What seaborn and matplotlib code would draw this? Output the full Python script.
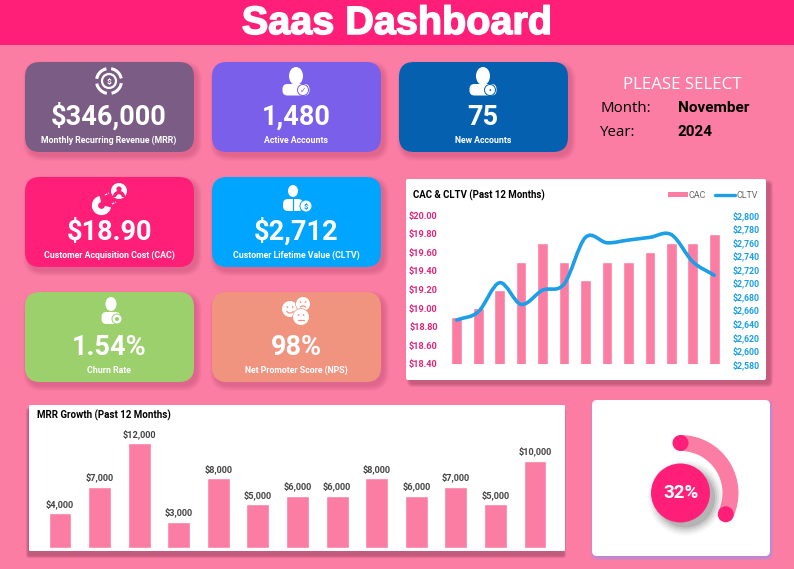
import numpy as np
import matplotlib
matplotlib.use("Agg")
import matplotlib.pyplot as plt
import pandas as pd
import seaborn as sns
import matplotlib.patheffects as pe
from matplotlib.patches import FancyBboxPatch, Circle, Ellipse, PathPatch, Rectangle
from matplotlib.path import Path
from matplotlib.lines import Line2D
from matplotlib.ticker import FuncFormatter, FixedLocator

# ---- data ----
months = ["Nov", "Dec", "Jan", "Feb", "Mar", "Apr", "May", "Jun", "Jul", "Aug", "Sep", "Oct", "Nov "]
cac_values = [18.90, 19.00, 19.20, 19.50, 19.70, 19.50, 19.30, 19.50, 19.50, 19.60, 19.70, 19.70, 19.80]
cltv_values = [2645, 2657, 2700, 2668, 2689, 2698, 2767, 2759, 2763, 2767, 2771, 2731, 2711]
mrr_growth = [4000, 7000, 12000, 3000, 8000, 5000, 6000, 6000, 8000, 6000, 7000, 5000, 10000]
retention_share = 0.32

kpi_values = ["$346,000", "1,480", "75", "$18.90", "$2,712", "1.54%", "98%"]
kpi_labels = ["Monthly Recurring Revenue (MRR)", "Active Accounts", "New Accounts",
              "Customer Acquisition Cost (CAC)", "Customer Lifetime Value (CLTV)",
              "Churn Rate", "Net Promoter Score (NPS)"]
kpi_colors = ["#7B5C85", "#7A5FEA", "#0561B0", "#FF1F78", "#00A5FF", "#9BD06D", "#F09480"]
kpi_boxes = [(25, 62), (212, 62), (399, 62), (25, 177), (212, 177), (25, 292), (212, 292)]

PINK = "#FB7DA3"
HOT = "#FF1F78"
BLUE = "#1B9FE6"
W, H = 794, 569

sns.set_theme(style="white")
plt.rcParams["font.family"] = ["Roboto", "DejaVu Sans"]

fig = plt.figure(figsize=(W / 100, H / 100), dpi=100, facecolor=PINK)

# Full-figure canvas measured in pixels, y pointing down
bg = fig.add_axes([0, 0, 1, 1], zorder=0)
bg.set_xlim(0, W)
bg.set_ylim(H, 0)
bg.axis("off")


def panel_axes(x0, y0, x1, y1, **kw):
    ax = fig.add_axes([x0 / W, 1 - y1 / H, (x1 - x0) / W, (y1 - y0) / H], zorder=2, **kw)
    ax.patch.set_alpha(0)
    return ax


def rbox(x, y, w, h, r, color, alpha=1.0, z=2):
    bg.add_patch(FancyBboxPatch((x + r, y + r), w - 2 * r, h - 2 * r,
                                boxstyle=f"round,pad={r},rounding_size={r}",
                                fc=color, ec="none", alpha=alpha, zorder=z))


def soft_shadow(x, y, w, h, r, color, dx=3, dy=4, spread=5, alpha=0.05):
    for s in range(spread, -1, -1):
        rbox(x + dx - s, y + dy - s, w + 2 * s, h + 2 * s, r + s, color, alpha, z=1)


def arc(cx, cy, r, a0, a1, lw, color="white", z=4, cap="butt"):
    t = np.radians(np.linspace(a0, a1, 40))
    bg.plot(cx + r * np.cos(t), cy + r * np.sin(t), color=color, lw=lw, zorder=z,
            solid_capstyle=cap)


def person(cx, head_y, rx, ry, body_w, body_top, body_bot):
    bg.add_patch(Ellipse((cx, head_y), 2 * rx, 2 * ry, fc="white", ec="none", zorder=4))
    rbox(cx - body_w / 2, body_top, body_w, body_bot - body_top, 5, "white", z=4)


def badge(cx, cy, r, color, mark=None):
    bg.add_patch(Circle((cx, cy), r + 1, fc=color, ec="none", zorder=5))
    bg.add_patch(Circle((cx, cy), r, fc="white", ec="none", zorder=5))
    if mark:
        bg.text(cx, cy, mark, color=color, fontsize=5.5, fontweight="bold",
                family=["Roboto", "DejaVu Sans"], ha="center", va="center", zorder=6)


# ---- header ----
bg.add_patch(Rectangle((0, 0), W, 45, fc=HOT, ec="none", zorder=1))
bg.text(397, 23, "Saas Dashboard", color="white", fontsize=28.5, fontweight="bold",
        family="Liberation Sans", ha="center", va="center", zorder=3,
        path_effects=[pe.withStroke(linewidth=1.1, foreground="white")])

# ---- KPI cards ----
for (x, y), col, val, lab in zip(kpi_boxes, kpi_colors, kpi_values, kpi_labels):
    soft_shadow(x, y, 169, 90, 15, "#A0305F")
    rbox(x, y, 169, 90, 15, col)
    bg.text(x + 84, y + 55, val, color="white", fontsize=19.5, fontweight="bold",
            ha="center", va="center", zorder=4)
    bg.text(x + 84, y + 78, lab, color="white", fontsize=6.3, fontweight="bold",
            ha="center", va="center", zorder=4)

# revenue cycle icon
for a in (10, 100, 190, 280):
    arc(109, 81, 12.5, a, a + 68, 2.2)
bg.add_patch(Circle((109, 81), 7, fc="none", ec="white", lw=1.6, zorder=4))
bg.text(109, 81, "$", color="white", fontsize=6, fontweight="bold", ha="center", va="center", zorder=4)

# account icons
for cx, col in ((296, kpi_colors[1]), (483, kpi_colors[2])):
    person(cx, 76, 7, 9, 27, 84, 95.5)
    badge(cx + 7, 90, 5, col, "✓" if cx == 296 else "•")

# acquisition magnet icon
arc(101.5, 205.5, 6.5, 10, 260, 4.5)
bg.add_patch(Circle((119, 191), 8, fc="white", ec="none", zorder=4))
bg.add_patch(Circle((119, 189), 2.6, fc=kpi_colors[3], ec="none", zorder=5))
arc(119, 197, 4.5, 180, 360, 2.5, kpi_colors[3], z=5)
bg.plot([105, 109], [195, 193], color="white", lw=0.9, ls=(0, (2, 1)), zorder=4)
bg.plot([112, 116], [204, 202], color="white", lw=0.9, ls=(0, (2, 1)), zorder=4)

# lifetime value icon
person(293, 191, 5, 6, 20, 199, 211)
bg.plot([293, 293], [199, 210], color=kpi_colors[4], lw=0.9, zorder=5)
badge(306, 206, 5.5, kpi_colors[4], "$")

# churn icon
person(111, 304, 5.5, 7, 19, 312, 324)
badge(117, 319, 4.5, kpi_colors[5])
bg.add_patch(Circle((117, 319), 2, fc=kpi_colors[5], ec="none", zorder=6))

# satisfaction faces icon
for cx, cy, r, mouth in ((290, 309, 8, 1), (303, 304, 7, -1), (301, 317, 8, 0)):
    bg.add_patch(Circle((cx, cy), r + 0.7, fc=kpi_colors[6], ec="none", zorder=4))
    bg.add_patch(Circle((cx, cy), r, fc="white", ec="none", zorder=4))
    for sx in (-2.6, 2.6):
        bg.add_patch(Circle((cx + sx, cy - 2), 0.9, fc=kpi_colors[6], ec="none", zorder=5))
    if mouth == 1:
        arc(cx, cy, 4, 30, 150, 0.9, kpi_colors[6], z=5)
    elif mouth == -1:
        arc(cx, cy + 6, 4, 220, 320, 0.9, kpi_colors[6], z=5)
    else:
        bg.plot([cx - 3, cx + 3], [cy + 3, cy + 3], color=kpi_colors[6], lw=0.9, zorder=5)

# ---- selector ----
bg.text(682, 85, "PLEASE SELECT", color="white", fontsize=12.2, family="Open Sans",
        ha="center", va="center", zorder=3)
for y, lab, val in ((108, "Month:", "November"), (132, "Year:", "2024")):
    bg.text(600, y, lab, color="black", fontsize=10.8, family="Open Sans", ha="left", va="center", zorder=3)
    bg.text(678, y, val, color="black", fontsize=11, fontweight="bold", ha="left", va="center", zorder=3)

# ---- white panels ----
soft_shadow(406, 179, 360, 201, 3, "#8A3A58", dx=4, dy=4, spread=3, alpha=0.14)
rbox(406, 179, 360, 201, 2, "white")
soft_shadow(29, 405, 536, 146, 1, "#8A3A58", dx=-1, dy=5, spread=2, alpha=0.2)
rbox(29, 405, 536, 146, 1, "white")
soft_shadow(592, 400, 178, 156, 5, "#B08AE0", dx=1, dy=2, spread=2, alpha=0.4)
rbox(592, 400, 178, 156, 5, "white")

# ---- CAC & CLTV combo chart ----
bg.text(413, 195, "CAC & CLTV (Past 12 Months)", color="black", fontsize=6.9, fontweight="bold",
        ha="left", va="center", zorder=3)

ax = panel_axes(446, 215, 725, 364)
combo = pd.DataFrame({"month": range(len(months)), "cac": cac_values})
sns.barplot(data=combo, x="month", y="cac", color=PINK, saturation=1, width=0.5, ax=ax)
ax.set_xlim(-0.5, 12.5)
ax.set_ylim(18.40, 20.00)
ax.set_xlabel("")
ax.set_ylabel("")
ax.set_xticks([])
ax.yaxis.set_major_locator(FixedLocator(np.arange(18.4, 20.01, 0.2)))
ax.yaxis.set_major_formatter(FuncFormatter(lambda v, _: f"${v:.2f}"))
ax.tick_params(axis="y", length=0, pad=6, labelsize=6.6, labelcolor="#E0257A")
for t in ax.get_yticklabels():
    t.set_fontweight("bold")
sns.despine(ax=ax, left=True, bottom=True)

ax2 = ax.twinx()
ax2.patch.set_alpha(0)
ax2.set_ylim(2580, 2800)
ax2.set_yticks(np.arange(2580, 2801, 20))
ax2.yaxis.set_major_formatter(FuncFormatter(lambda v, _: f"${v:,.0f}"))
ax2.tick_params(axis="y", length=0, pad=5.5, labelsize=6.3, labelcolor=BLUE)
for t in ax2.get_yticklabels():
    t.set_fontweight("bold")
sns.despine(ax=ax2, left=True, bottom=True, right=True)

# Smoothed line through the monthly values, with Bezier handles from neighbouring slopes
xs = np.arange(len(cltv_values), dtype=float)
ys = np.array(cltv_values, dtype=float)
slopes = np.gradient(ys, xs)
verts, codes = [(xs[0], ys[0])], [Path.MOVETO]
for i in range(len(xs) - 1):
    verts += [(xs[i] + 1 / 3, ys[i] + slopes[i] / 3),
              (xs[i + 1] - 1 / 3, ys[i + 1] - slopes[i + 1] / 3),
              (xs[i + 1], ys[i + 1])]
    codes += [Path.CURVE4] * 3
ax2.add_patch(PathPatch(Path(verts, codes), fc="none", ec=BLUE, lw=2.6, capstyle="round"))

legend_ax = panel_axes(662, 186, 763, 204)
legend_ax.axis("off")
legend_ax.legend(handles=[Rectangle((0, 0), 1, 1, fc=PINK, ec="none", label="CAC"),
                          Line2D([0], [0], color=BLUE, lw=2.4, label="CLTV")],
                 loc="center", ncol=2, frameon=False, fontsize=6.4, labelcolor="#666666",
                 handlelength=2.3, handleheight=0.5, handletextpad=0.1, columnspacing=0.95,
                 borderpad=0, borderaxespad=0)

# ---- MRR growth bars ----
bg.text(37, 415, "MRR Growth (Past 12 Months)", color="black", fontsize=7, fontweight="bold",
        ha="left", va="center", zorder=3)
ax3 = panel_axes(40.2, 443, 554.8, 548)
growth = pd.DataFrame({"month": range(len(months)), "mrr": mrr_growth})
sns.barplot(data=growth, x="month", y="mrr", color=PINK, saturation=1, width=0.58, ax=ax3)
ax3.set_xlim(-0.5, 12.5)
ax3.set_ylim(0, 12000)
ax3.set_xlabel("")
ax3.set_ylabel("")
ax3.set_xticks([])
ax3.set_yticks([])
sns.despine(ax=ax3, left=True, bottom=True)
ax3.bar_label(ax3.containers[0], labels=[f"${v:,.0f}" for v in mrr_growth], padding=3,
              fontsize=6.6, fontweight="bold", color="#444444", clip_on=False)

# ---- percentage gauge ----
cx, cy = 680.5, 493
gx = panel_axes(cx - 60, cy - 60, cx + 60, cy + 60)
gx.pie([retention_share, 1 - retention_share], colors=[PINK, "none"], startangle=90,
       counterclock=False, radius=58, wedgeprops=dict(width=16, ec="none"))
gx.set_xlim(-60, 60)
gx.set_ylim(-60, 60)
gx.set_aspect("equal")
end = np.radians(90 - retention_share * 360)
mid = 50
for px, py in ((0, mid), (mid * np.cos(end), mid * np.sin(end))):
    gx.add_patch(Circle((px, py), 8, fc=HOT, ec="none", zorder=5))
for s, a in ((8, .04), (6, .06), (4, .08), (2, .1), (0, .14)):
    gx.add_patch(Circle((5, -5), 29.5 + s, fc="#333333", ec="none", alpha=a, zorder=4))
gx.add_patch(Circle((0, 0), 29.5, fc=HOT, ec="none", zorder=5))
gx.text(0, 0, f"{retention_share:.0%}", color="white", fontsize=13.5, fontweight="bold",
        ha="center", va="center", zorder=6)

fig.savefig("out.png", dpi=100, facecolor=fig.get_facecolor())
